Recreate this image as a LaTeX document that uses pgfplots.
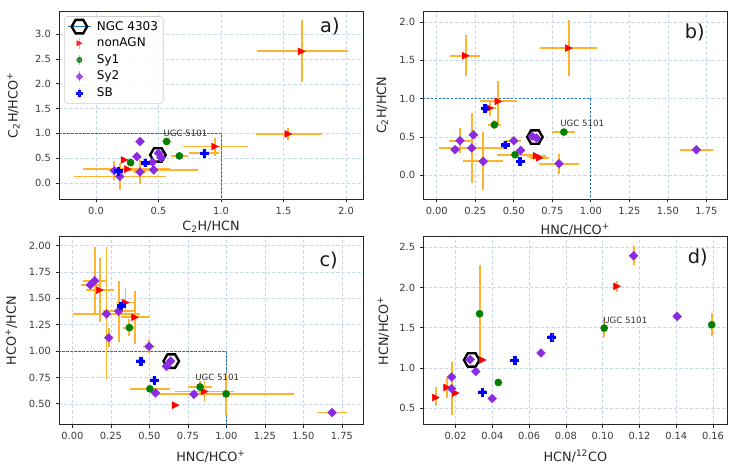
\documentclass[border=0pt]{standalone}
\usepackage{fontspec}
\setmainfont{DejaVu Sans}
\usepackage{pgfplots}
\pgfplotsset{compat=1.18}

\definecolor{cRed}{RGB}{255,0,0}
\definecolor{cGreen}{RGB}{0,128,0}
\definecolor{cPurple}{RGB}{138,43,226}
\definecolor{cBlue}{RGB}{0,0,255}
\definecolor{cOrange}{RGB}{255,180,48}
\definecolor{cRef}{RGB}{31,119,180}
\definecolor{cGrid}{RGB}{200,216,236}
\definecolor{cTick}{RGB}{60,60,60}

% marker shapes
\pgfdeclareplotmark{rtri}{%
  \pgfpathmoveto{\pgfqpoint{\pgfplotmarksize}{0pt}}%
  \pgfpathlineto{\pgfqpoint{-\pgfplotmarksize}{\pgfplotmarksize}}%
  \pgfpathlineto{\pgfqpoint{-\pgfplotmarksize}{-\pgfplotmarksize}}%
  \pgfpathclose\pgfusepathqfillstroke}
\pgfdeclareplotmark{dia}{%
  \pgfpathmoveto{\pgfqpoint{0pt}{\pgfplotmarksize}}%
  \pgfpathlineto{\pgfqpoint{\pgfplotmarksize}{0pt}}%
  \pgfpathlineto{\pgfqpoint{0pt}{-\pgfplotmarksize}}%
  \pgfpathlineto{\pgfqpoint{-\pgfplotmarksize}{0pt}}%
  \pgfpathclose\pgfusepathqfillstroke}
\pgfdeclareplotmark{fplus}{%
  \pgfpathmoveto{\pgfqpoint{-0.333\pgfplotmarksize}{\pgfplotmarksize}}%
  \pgfpathlineto{\pgfqpoint{0.333\pgfplotmarksize}{\pgfplotmarksize}}%
  \pgfpathlineto{\pgfqpoint{0.333\pgfplotmarksize}{0.333\pgfplotmarksize}}%
  \pgfpathlineto{\pgfqpoint{\pgfplotmarksize}{0.333\pgfplotmarksize}}%
  \pgfpathlineto{\pgfqpoint{\pgfplotmarksize}{-0.333\pgfplotmarksize}}%
  \pgfpathlineto{\pgfqpoint{0.333\pgfplotmarksize}{-0.333\pgfplotmarksize}}%
  \pgfpathlineto{\pgfqpoint{0.333\pgfplotmarksize}{-\pgfplotmarksize}}%
  \pgfpathlineto{\pgfqpoint{-0.333\pgfplotmarksize}{-\pgfplotmarksize}}%
  \pgfpathlineto{\pgfqpoint{-0.333\pgfplotmarksize}{-0.333\pgfplotmarksize}}%
  \pgfpathlineto{\pgfqpoint{-\pgfplotmarksize}{-0.333\pgfplotmarksize}}%
  \pgfpathlineto{\pgfqpoint{-\pgfplotmarksize}{0.333\pgfplotmarksize}}%
  \pgfpathlineto{\pgfqpoint{-0.333\pgfplotmarksize}{0.333\pgfplotmarksize}}%
  \pgfpathclose\pgfusepathqfillstroke}
% open hexagon, flat top and bottom
\pgfdeclareplotmark{hexa}{%
  \pgfpathmoveto{\pgfqpoint{\pgfplotmarksize}{0pt}}%
  \pgfpathlineto{\pgfqpoint{0.5\pgfplotmarksize}{0.866\pgfplotmarksize}}%
  \pgfpathlineto{\pgfqpoint{-0.5\pgfplotmarksize}{0.866\pgfplotmarksize}}%
  \pgfpathlineto{\pgfqpoint{-\pgfplotmarksize}{0pt}}%
  \pgfpathlineto{\pgfqpoint{-0.5\pgfplotmarksize}{-0.866\pgfplotmarksize}}%
  \pgfpathlineto{\pgfqpoint{0.5\pgfplotmarksize}{-0.866\pgfplotmarksize}}%
  \pgfpathclose\pgfusepathqstroke}

\tikzset{
  tag/.style={font=\fontsize{14.5}{16}\selectfont, text=black!90},
  ugc/.style={font=\fontsize{6.5}{7}\selectfont, text=black!80, anchor=base west, inner sep=0pt},
}

\pgfplotsset{
  panel/.style={
    scale only axis, width=228pt, height=140.6pt, clip=true,
    axis line style={black!85, line width=0.6pt},
    tick align=outside, major tick length=2.6pt,
    every tick/.style={black!85, line width=0.6pt},
    xtick pos=bottom, ytick pos=left,
    grid=major,
    major grid style={cGrid, dash pattern=on 2.4pt off 1.6pt, line width=0.5pt},
    tick label style={font=\fontsize{7.4}{8}\selectfont, text=cTick},
    /pgf/number format/assume math mode=true,
    scaled ticks=false,
    label style={font=\fontsize{9.6}{11}\selectfont, text=black!85},
    xlabel style={anchor=base},
  },
  xfmt/.style={xticklabel style={/pgf/number format/.cd, fixed, fixed zerofill, precision=#1}},
  yfmt/.style={yticklabel style={/pgf/number format/.cd, fixed, fixed zerofill, precision=#1}},
  errs/.style={
    error bars/x dir=both, error bars/x explicit,
    error bars/y dir=both, error bars/y explicit,
    error bars/error mark=none,
    error bars/error bar style={line width=1.4pt, color=cOrange, solid}},
  errleg/.style={legend image code/.code={%
    \draw[cOrange, line width=1.3pt] (0.3cm,-0.14cm) -- (0.3cm,0.14cm);
    \draw plot[only marks, mark options={scale=0.75}] coordinates {(0.3cm,0cm)};}},
  sNGC/.style={only marks, mark=hexa, mark size=5.8pt,
    mark options={draw=black, line width=1.8pt},
    legend image code/.code={%
      \draw[cRef, line width=1.2pt] (0cm,0cm) -- (0.6cm,0cm);
      \draw plot[only marks] coordinates {(0.3cm,0cm)};}},
  sNon/.style={only marks, mark=rtri, mark size=2.6pt, color=cRed, line width=0.3pt, errleg},
  sSy1/.style={only marks, mark=*, mark size=2.7pt, color=cGreen, line width=0.3pt, errleg},
  sSy2/.style={only marks, mark=dia, mark size=3.3pt, color=cPurple, line width=0.3pt, errleg},
  sSB/.style={only marks, mark=fplus, mark size=2.9pt, color=cBlue, line width=0.3pt, errleg},
  refl/.style={cRef, line width=0.5pt, dash pattern=on 2pt off 1pt, forget plot},
}

\begin{document}
\begin{tikzpicture}
\useasboundingbox (0,0) rectangle (552.75pt,351.75pt);

% ---------------- a) ----------------
\begin{axis}[panel, at={(44.25pt,202.5pt)}, anchor=south west,
  xmin=-0.296, xmax=2.136, ymin=-0.324, ymax=3.46,
  xtick={0,0.5,1,1.5,2}, ytick={0,0.5,1,1.5,2,2.5,3}, xfmt=1, yfmt=1,
  xlabel={C\textsubscript{2}H/HCN}, ylabel={C\textsubscript{2}H/HCO\textsuperscript{+}},
  xlabel style={at={(axis description cs:0.5,-0.167)}},
  ylabel style={at={(axis description cs:-0.150,0.5)}, anchor=center},
  legend style={at={(rel axis cs:0.0174,0.975)}, anchor=north west,
    draw=black!20, fill=white, fill opacity=0.8, text opacity=1, draw opacity=1,
    rounded corners=2pt, font=\fontsize{9}{10}\selectfont, row sep=0.3pt,
    inner xsep=2pt, inner ysep=1.5pt,
    /tikz/every odd column/.append style={column sep=2pt}},
  legend cell align=left]
\addplot[refl] coordinates {(-1,1) (1,1) (1,-1)};
\addplot[sNGC] table {
x y
0.495 0.566
};
\addlegendentry{NGC 4303}
\addplot[sNon, errs] table[x=x, y=y, x error minus=xm, x error plus=xp, y error minus=ym, y error plus=yp] {
x y xm xp ym yp
1.645 2.656 0.36 0.37 0.62 0.64
1.539 0.99 0.26 0.27 0.12 0.11
0.952 0.735 0.26 0.26 0.19 0.18
0.228 0.465 0.03 0.03 0.03 0.03
0.255 0.28 0.36 0.34 0.04 0.04
};
\addlegendentry{nonAGN}
\addplot[sSy1, errs] table[x=x, y=y, x error minus=xm, x error plus=xp, y error minus=ym, y error plus=yp] {
x y xm xp ym yp
0.277 0.41 0.03 0.03 0.05 0.05
0.565 0.838 0.04 0.04 0.03 0.03
0.667 0.546 0.07 0.07 0.02 0.02
};
\addlegendentry{Sy1}
\addplot[sSy2, errs] table[x=x, y=y, x error minus=xm, x error plus=xp, y error minus=ym, y error plus=yp] {
x y xm xp ym yp
0.352 0.838 0 0 0 0
0.327 0.53 0 0 0 0
0.453 0.42 0.03 0.03 0.03 0.03
0.462 0.263 0.35 0.35 0.05 0.05
0.352 0.22 0.05 0.05 0.25 0.25
0.147 0.25 0.05 0.05 0.2 0.2
0.19 0.13 0.37 0.37 0.27 0.27
0.50 0.60 0 0 0 0
0.52 0.51 0 0 0 0
};
\addlegendentry{Sy2}
\addplot[sSB, errs] table[x=x, y=y, x error minus=xm, x error plus=xp, y error minus=ym, y error plus=yp] {
x y xm xp ym yp
0.179 0.243 0.03 0.03 0 0
0.392 0.41 0 0 0 0
0.866 0.60 0.12 0.12 0.03 0.03
};
\addlegendentry{SB}
\node[ugc] at (axis cs:0.538,0.937) {UGC 5101};
\node[tag] at (rel axis cs:0.891,0.921) {a)};
\end{axis}

% ---------------- b) ----------------
\begin{axis}[panel, at={(317.5pt,202.5pt)}, anchor=south west,
  xmin=-0.087, xmax=1.886, ymin=-0.308, ymax=2.137,
  xtick={0,0.25,0.5,0.75,1,1.25,1.5,1.75}, ytick={0,0.5,1,1.5,2}, xfmt=2, yfmt=1,
  xlabel={HNC/HCO\textsuperscript{+}}, ylabel={C\textsubscript{2}H/HCN},
  xlabel style={at={(axis description cs:0.5,-0.187)}},
  ylabel style={at={(axis description cs:-0.135,0.5)}, anchor=center}]
\addplot[refl] coordinates {(-1,1) (1,1) (1,-1)};
\addplot[sNGC] table {
x y
0.637 0.50
};
\addplot[sNon, errs] table[x=x, y=y, x error minus=xm, x error plus=xp, y error minus=ym, y error plus=yp] {
x y xm xp ym yp
0.188 1.561 0.10 0.095 0.27 0.27
0.857 1.661 0.185 0.18 0.37 0.37
0.40 0.965 0.12 0.12 0.29 0.26
0.345 0.878 0.04 0.04 0.10 0.10
0.648 0.255 0.06 0.06 0 0
0.667 0.228 0.06 0.06 0 0
};
\addplot[sSy1, errs] table[x=x, y=y, x error minus=xm, x error plus=xp, y error minus=ym, y error plus=yp] {
x y xm xp ym yp
0.374 0.66 0.04 0.04 0.06 0.06
0.508 0.27 0.12 0.12 0.02 0.02
0.825 0.565 0.075 0.075 0.02 0.02
};
\addplot[sSy2, errs] table[x=x, y=y, x error minus=xm, x error plus=xp, y error minus=ym, y error plus=yp] {
x y xm xp ym yp
0.238 0.53 0.03 0.03 0 0
0.151 0.452 0.07 0.07 0.16 0.16
0.119 0.335 0 0 0 0
0.227 0.357 0.21 0.21 0.46 0.46
0.302 0.183 0.13 0.13 0.38 0.38
0.50 0.452 0.05 0.05 0 0
0.544 0.326 0 0 0 0
0.793 0.152 0.13 0.13 0.13 0.13
0.62 0.51 0 0 0 0
0.648 0.487 0 0 0 0
1.685 0.335 0.105 0.105 0 0
};
\addplot[sSB, errs] table[x=x, y=y, x error minus=xm, x error plus=xp, y error minus=ym, y error plus=yp] {
x y xm xp ym yp
0.313 0.878 0 0 0 0
0.443 0.40 0 0 0 0
0.54 0.183 0 0 0 0
};
\node[ugc] at (axis cs:0.80,0.64) {UGC 5101};
\node[tag] at (rel axis cs:0.893,0.89) {b)};
\end{axis}

% ---------------- c) ----------------
\begin{axis}[panel, at={(44.25pt,33.5pt)}, anchor=south west,
  xmin=-0.087, xmax=1.887, ymin=0.306, ymax=2.082,
  xtick={0,0.25,0.5,0.75,1,1.25,1.5,1.75}, ytick={0.5,0.75,1,1.25,1.5,1.75,2}, xfmt=2, yfmt=2,
  xlabel={HNC/HCO\textsuperscript{+}}, ylabel={HCO\textsuperscript{+}/HCN},
  xlabel style={at={(axis description cs:0.5,-0.199)}},
  ylabel style={at={(axis description cs:-0.157,0.5)}, anchor=center}]
\addplot[refl] coordinates {(-1,1) (1,1) (1,-1)};
\addplot[sNGC] table {
x y
0.642 0.905
};
\addplot[sNon, errs] table[x=x, y=y, x error minus=xm, x error plus=xp, y error minus=ym, y error plus=yp] {
x y xm xp ym yp
0.178 1.578 0.09 0.09 0.30 0.30
0.345 1.46 0.06 0.06 0.14 0.14
0.406 1.32 0.09 0.09 0.25 0.25
0.858 0.617 0.19 0.19 0.10 0.10
0.67 0.488 0 0 0 0
};
\addplot[sSy1, errs] table[x=x, y=y, x error minus=xm, x error plus=xp, y error minus=ym, y error plus=yp] {
x y xm xp ym yp
0.37 1.222 0.04 0.04 0.08 0.08
0.503 0.642 0.13 0.13 0 0
0.829 0.66 0.08 0.08 0.06 0.06
0.998 0.595 0.44 0.44 0.20 0.20
};
\addplot[sSy2, errs] table[x=x, y=y, x error minus=xm, x error plus=xp, y error minus=ym, y error plus=yp] {
x y xm xp ym yp
0.117 1.628 0.06 0.06 0 0
0.145 1.667 0.075 0.075 0.32 0.32
0.221 1.352 0.22 0.22 0.63 0.63
0.236 1.126 0.02 0.02 0.09 0.09
0.30 1.377 0.10 0.10 0.29 0.29
0.498 1.044 0.04 0.04 0.06 0.06
0.611 0.855 0 0 0 0
0.638 0.905 0 0 0 0
0.54 0.604 0 0 0 0
0.789 0.591 0 0 0 0
1.686 0.418 0.10 0.10 0 0
};
\addplot[sSB, errs] table[x=x, y=y, x error minus=xm, x error plus=xp, y error minus=ym, y error plus=yp] {
x y xm xp ym yp
0.315 1.43 0 0 0 0
0.442 0.906 0 0 0 0
0.531 0.724 0 0 0 0
};
\node[ugc] at (axis cs:0.796,0.717) {UGC 5101};
\node[tag] at (rel axis cs:0.887,0.873) {c)};
\end{axis}

% ---------------- d) ----------------
\begin{axis}[panel, at={(317.5pt,33.5pt)}, anchor=south west,
  xmin=0.0024, xmax=0.1678, ymin=0.302, ymax=2.627,
  xtick={0.02,0.04,0.06,0.08,0.1,0.12,0.14,0.16}, ytick={0.5,1,1.5,2,2.5}, xfmt=2, yfmt=1,
  xlabel={HCN/\textsuperscript{12}CO}, ylabel={HCN/HCO\textsuperscript{+}},
  xlabel style={at={(axis description cs:0.5,-0.196)}},
  ylabel style={at={(axis description cs:-0.131,0.5)}, anchor=center}]
\addplot[sNGC] table {
x y
0.0287 1.10
};
\addplot[sNon, errs] table[x=x, y=y, x error minus=xm, x error plus=xp, y error minus=ym, y error plus=yp] {
x y xm xp ym yp
0.0092 0.634 0 0 0.11 0.13
0.0153 0.76 0 0 0.13 0.13
0.020 0.69 0 0 0.03 0.03
0.0347 1.10 0 0 0 0
0.1078 2.014 0 0 0.07 0.07
};
\addplot[sSy1, errs] table[x=x, y=y, x error minus=xm, x error plus=xp, y error minus=ym, y error plus=yp] {
x y xm xp ym yp
0.0330 1.673 0 0 0.60 0.60
0.0432 0.821 0 0 0.04 0.04
0.1008 1.496 0 0 0.11 0.12
0.1593 1.537 0 0 0.14 0.14
};
\addplot[sSy2, errs] table[x=x, y=y, x error minus=xm, x error plus=xp, y error minus=ym, y error plus=yp] {
x y xm xp ym yp
0.0178 0.89 0 0 0 0
0.0178 0.745 0 0 0.33 0.33
0.0279 1.105 0 0 0 0
0.0309 0.957 0 0 0 0
0.0399 0.623 0 0 0 0
0.0664 1.187 0 0 0 0
0.1168 2.393 0 0 0.12 0.12
0.1405 1.64 0 0 0 0
};
\addplot[sSB, errs] table[x=x, y=y, x error minus=xm, x error plus=xp, y error minus=ym, y error plus=yp] {
x y xm xp ym yp
0.0345 0.703 0 0 0 0
0.0520 1.096 0 0 0 0
0.0721 1.385 0 0 0 0
};
\node[ugc] at (axis cs:0.1002,1.549) {UGC 5101};
\node[tag] at (rel axis cs:0.903,0.89) {d)};
\end{axis}
\end{tikzpicture}
\end{document}
